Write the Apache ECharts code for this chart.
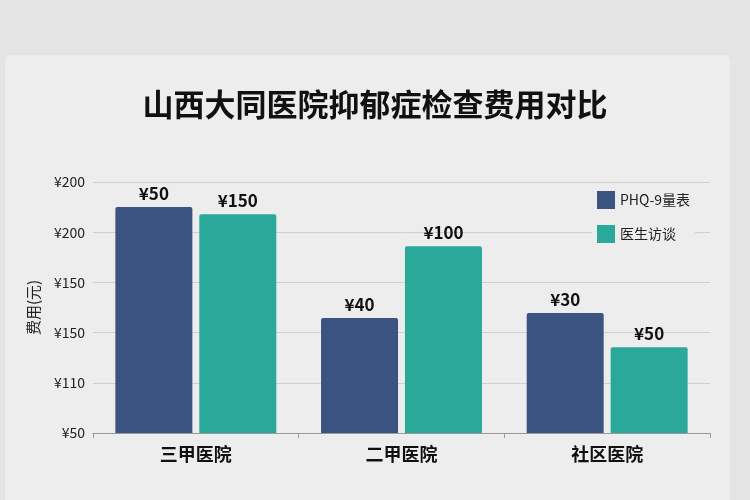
<!DOCTYPE html>
<html><head><meta charset="utf-8">
<script src="https://cdn.jsdelivr.net/npm/echarts@6/dist/echarts.min.js"></script>
<style>html,body{margin:0;background:#e4e4e4;}#c{width:750px;height:500px;}</style>
</head><body><div id="c"></div>
<script>
const categories = ["三甲医院", "二甲医院", "社区医院"];
const tickLabels = ["¥50", "¥110", "¥150", "¥150", "¥200", "¥200"];
const phqHeights = [4.5, 2.29, 2.39];
const doctorHeights = [4.36, 3.72, 1.71];
const phqText = ["¥50", "¥40", "¥30"];
const doctorText = ["¥150", "¥100", "¥50"];

const chart = echarts.init(document.getElementById('c'));
const font = '"Noto Sans CJK SC", "Noto Sans", sans-serif';
chart.setOption({
  backgroundColor: '#e4e4e4',
  graphic: [{type: 'rect', shape: {x: 5, y: 55, width: 725, height: 460, r: 6}, style: {fill: '#ededed'}, z: -10}],
  title: {text: '山西大同医院抑郁症检查费用对比', left: 'center', top: 84,
    textStyle: {fontFamily: font, fontSize: 31, fontWeight: 'bold', color: '#111'}},
  legend: {orient: 'vertical', left: 592, top: 186, itemWidth: 18, itemHeight: 18, itemGap: 16,
    icon: 'rect', textStyle: {fontFamily: font, fontSize: 14, color: '#222'},
    backgroundColor: '#ededed'},
  grid: {left: 93, right: 40, top: 182, bottom: 67},
  xAxis: {type: 'category', data: categories,
    axisLine: {lineStyle: {color: '#999'}}, axisTick: {show: true, lineStyle: {color: '#999'}},
    axisLabel: {fontFamily: font, fontSize: 18, fontWeight: 'bold', color: '#111', margin: 12}},
  yAxis: {type: 'value', min: 0, max: 5, interval: 1, name: '费用(元)', nameLocation: 'middle', nameGap: 52,
    nameRotate: 90, nameTextStyle: {fontFamily: font, fontSize: 15, color: '#222'},
    axisLabel: {fontFamily: font, fontSize: 14, color: '#222', formatter: (v) => tickLabels[Math.round(v)]},
    splitLine: {lineStyle: {color: '#cfcfcf'}}},
  series: [
    {name: 'PHQ-9量表', type: 'bar', data: phqHeights, barWidth: 77, barGap: '9%',
      itemStyle: {color: '#3b5380', borderRadius: [2, 2, 0, 0]},
      label: {show: true, position: 'top', fontFamily: font, fontSize: 17, fontWeight: 'bold', color: '#111',
        formatter: (p) => phqText[p.dataIndex]}},
    {name: '医生访谈', type: 'bar', data: doctorHeights, barWidth: 77,
      itemStyle: {color: '#2aa89a', borderRadius: [2, 2, 0, 0]},
      label: {show: true, position: 'top', fontFamily: font, fontSize: 17, fontWeight: 'bold', color: '#111',
        formatter: (p) => doctorText[p.dataIndex]}}
  ]
});
</script></body></html>
